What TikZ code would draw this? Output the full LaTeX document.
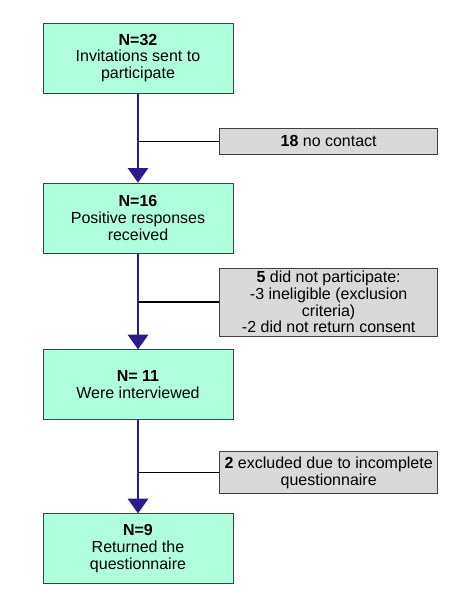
\documentclass[tikz,border=0pt]{standalone}
\usepackage{fontspec}
\setmainfont{Liberation Sans}
\usepackage{xcolor}
\usetikzlibrary{arrows.meta, positioning}
\definecolor{stepgreen}{RGB}{175,255,222}
\definecolor{exclgray}{RGB}{217,217,217}
\definecolor{flowblue}{RGB}{46,26,140}
\tikzstyle{stage} = [rectangle, minimum width=142.5pt, minimum height=52.5pt, text centered, align=center, draw=black!75, fill=stepgreen, font=\fontsize{12}{12.5}\selectfont]
\tikzstyle{excl} = [rectangle, minimum width=163.5pt, inner ysep=1pt, inner xsep=2pt, text centered, align=center, draw=black!75, fill=exclgray, font=\fontsize{12}{12.5}\selectfont]
\tikzstyle{flow} = [draw=flowblue, line width=2.2pt, -{Triangle[width=15pt,length=11pt]}]
\tikzstyle{branch} = [draw=black, line width=1.2pt]

\begin{document}
\begin{tikzpicture}[node distance = 120pt]
    \useasboundingbox (0,0) rectangle (355.5pt,-445.5pt);
    % Nodes
    \node [stage] at (103.5pt,-43.5pt) (inv) {\textbf{N=32}\\Invitations sent to\\participate};
    \node [stage, below of=inv, node distance=120pt] (pos) {\textbf{N=16}\\Positive responses\\received};
    \node [stage, below of=pos, node distance=125pt] (intv) {\textbf{N= 11}\\Were interviewed};
    \node [stage, below of=intv, node distance=123pt] (ret) {\textbf{N=9}\\Returned the\\questionnaire};
    \node [excl, below of=inv, node distance=62.5pt, xshift=143pt, minimum height=20pt] (nocontact) {\textbf{18} no contact};
    \node [excl, below of=pos, node distance=63pt, xshift=143pt, minimum height=51pt] (notpart) {\textbf{5} did not participate:\\-3 ineligible (exclusion\\criteria)\\-2 did not return consent};
    \node [excl, below of=intv, node distance=66pt, xshift=143pt, minimum height=31.5pt] (incompl) {\textbf{2} excluded due to incomplete\\questionnaire};

    % Edges
    \path [branch] (nocontact.west) -- (nocontact.west -| inv.south);
    \path [branch] (notpart.west) -- (notpart.west -| pos.south);
    \path [branch] (incompl.west) -- (incompl.west -| intv.south);
    \path [flow] (inv) -- (pos);
    \path [flow] (pos) -- (intv);
    \path [flow] (intv) -- (ret);
\end{tikzpicture}
\end{document}
